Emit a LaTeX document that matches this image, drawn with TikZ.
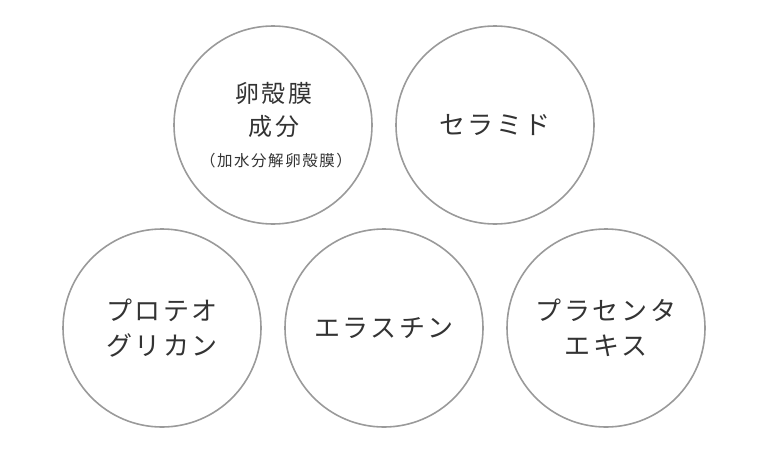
\documentclass[tikz,border=0pt]{standalone}
\usepackage{fontspec}
\setmainfont{Noto Sans CJK JP}
\newfontfamily\kanafont[LetterSpace=10]{Noto Sans CJK JP}
\definecolor{ringgray}{HTML}{9A9A9A}
\definecolor{inkgray}{HTML}{333333}
\tikzset{
  ring/.style={circle, draw=ringgray, line width=1.6pt, minimum size=198pt,
    inner sep=0pt, font=\kanafont\fontsize{26}{35}\selectfont, text=inkgray,
    align=center},
  kanji/.style={text=inkgray, font=\kanafont\fontsize{24}{33}\selectfont,
    align=center},
  subnote/.style={text=inkgray, font=\kanafont\fontsize{15.5}{18}\selectfont}
}
\begin{document}
\begin{tikzpicture}[x=1pt, y=-1pt]
  \useasboundingbox (0, 0) rectangle (768, 450);
  % Top row of ingredient circles.
  \node[ring] (shell) at (273, 125) {};
  \node[kanji] (shelltext) at (274, 110) {卵殻膜\\成分};
  \node[subnote] (shellnote) at (276, 161) {（加水分解卵殻膜）};
  \node[ring] (ceramide) at (495, 125) {セラミド};
  % Bottom row of ingredient circles.
  \node[ring] (proteo) at (162, 328) {プロテオ\\グリカン};
  \node[ring] (elastin) at (384, 328) {エラスチン};
  \node[ring] (placenta) at (606, 328) {プラセンタ\\エキス};
\end{tikzpicture}
\end{document}
